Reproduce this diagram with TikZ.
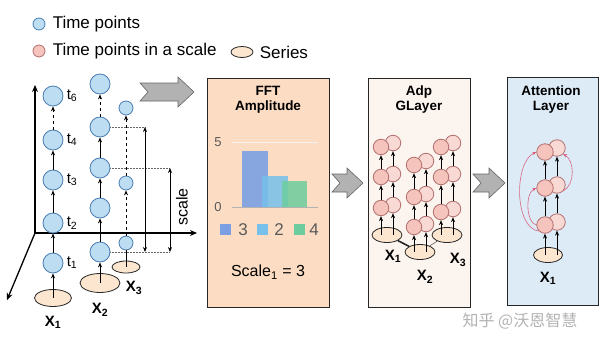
\documentclass[tikz,border=0pt]{standalone}
\usepackage{fontspec}
\setmainfont{Liberation Sans}
\newfontfamily\cjkfont{Noto Sans CJK SC}
\usetikzlibrary{
  arrows.meta, % Pfeilspitzen
  shapes.geometric, % Ellipsen fuer die Reihen
  positioning % relative Platzierung
}
% Farben
\definecolor{punktblau}{HTML}{BCDDF2}
\definecolor{randblau}{HTML}{4A7DB0}
\definecolor{punktrosa}{HTML}{F4C4BD}
\definecolor{randrosa}{HTML}{B46F6F}
\definecolor{rosablass}{HTML}{F8D9D4}
\definecolor{reihefarbe}{HTML}{FCE6CF}
\definecolor{fftfarbe}{HTML}{FCDDC3}
\definecolor{adpfarbe}{HTML}{FCF4EF}
\definecolor{attfarbe}{HTML}{DDEBF7}
\definecolor{balkenA}{HTML}{7B9FE2}
\definecolor{balkenB}{HTML}{77C0EA}
\definecolor{balkenC}{HTML}{6DCC9E}
\definecolor{attrot}{HTML}{D9506E}
% Blockpfeil: x, y (Mitte links), Laenge
\newcommand{\blockpfeil}[3]{%
  \draw[blockpfeil, shift={(#1,#2)}] (0,-9) -- (#3-16,-9) -- (#3-16,-15)
    -- (#3,0) -- (#3-16,15) -- (#3-16,9) -- (0,9) -- (8,0) -- cycle;}

\begin{document}
\begin{tikzpicture}[
      x=1pt, y=-1pt,
      line width=0.8pt,
      >={Stealth[length=5pt,width=4pt]}, % Standard-Pfeilspitze
      tp/.style={circle, draw=randblau, fill=punktblau, inner sep=0pt, minimum size=20pt},
      tpklein/.style={tp, minimum size=14pt},
      sp/.style={circle, draw=randrosa, fill=punktrosa, inner sep=0pt, minimum size=15.5pt},
      spblass/.style={sp, fill=rosablass},
      reihe/.style={ellipse, draw=black!85, fill=reihefarbe, inner sep=0pt,
        minimum width=37pt, minimum height=17pt},
      achse/.style={->, line width=1.3pt, >={Stealth[length=7pt,width=6pt]}},
      hilfslinie/.style={densely dotted, line width=0.5pt, black!60},
      panel/.style={draw=black!85, line width=1pt, inner sep=0pt},
      blockpfeil/.style={draw=black!60, fill=black!30, line width=0.6pt},
      titel/.style={font=\bfseries\fontsize{13.5}{15}\selectfont, align=center},
      legtext/.style={font=\fontsize{17}{20}\selectfont, anchor=west, inner sep=0pt},
      xlab/.style={font=\bfseries\fontsize{15}{17}\selectfont},
      tlab/.style={font=\fontsize{15}{17}\selectfont, inner sep=0pt},
      zahl/.style={font=\fontsize{17}{20}\selectfont, text=black!65},
      rotpfeil/.style={->, attrot, line width=0.6pt, opacity=0.85,
        >={Stealth[length=4pt,width=3.5pt]}},
    ]
    \useasboundingbox (0,0) rectangle (600,340);

    % Legende
    \node[tp, minimum size=12pt] (lega) at (39,24) {};
    \node[legtext, right=7pt of lega] (legatext) {Time points};
    \node[sp, minimum size=12pt] (legb) at (39,51) {};
    \node[legtext, right=7pt of legb] (legbtext) {Time points in a scale};
    \node[reihe, minimum width=22pt, minimum height=11pt] (legc) at (242,52) {};
    \node[legtext, right=6pt of legc] (legctext) {Series};

    % Achsen
    \coordinate (O) at (35,233);
    \coordinate (yachse) at (35,85);
    \coordinate (xachse) at (197,233);
    \coordinate (zachse) at (7,300);
    \draw[achse] (O) -- (yachse);
    \draw[achse] (O) -- (xachse);
    \draw[achse] (O) -- (zachse);

    % Reihe X1
    \node[reihe] (e1) at (53,298) {};
    \node[tp] (a1) at (53,263) {};
    \node[tp] (a2) at (53,223) {};
    \node[tp] (a3) at (53,180) {};
    \node[tp] (a4) at (53,140) {};
    \node[tp] (a6) at (53,96) {};
    \draw[->] (e1.center) -- (a1);
    \draw[->] (a1) -- (a2);
    \draw[->] (a2) -- (a3);
    \draw[->] (a3) -- (a4);
    \draw[->, dashed] (a4) -- (a6);
    \node[tlab, right=3pt of a1] (t1) {t\textsubscript{1}};
    \node[tlab, right=3pt of a2] (t2) {t\textsubscript{2}};
    \node[tlab, right=3pt of a3] (t3) {t\textsubscript{3}};
    \node[tlab, right=3pt of a4] (t4) {t\textsubscript{4}};
    \node[tlab, right=3pt of a6] (t6) {t\textsubscript{6}};
    \node[xlab] (x1) at (53,322) {X\textsubscript{1}};

    % Reihe X2
    \node[reihe, minimum width=40pt, minimum height=19pt] (e2) at (100,283) {};
    \node[tp] (b1) at (100,252) {};
    \node[tp] (b2) at (100,208) {};
    \node[tp] (b3) at (100,168) {};
    \node[tp] (b4) at (100,127) {};
    \node[tp] (b5) at (100,84) {};
    \draw[->] (e2.center) -- (b1);
    \draw[->] (b1) -- (b2);
    \draw[->] (b2) -- (b3);
    \draw[->] (b3) -- (b4);
    \draw[->, dashed] (b4) -- (b5);
    \node[xlab] (x2) at (100,310) {X\textsubscript{2}};

    % Reihe X3
    \node[reihe, minimum width=28pt, minimum height=12pt] (e3) at (126,267) {};
    \node[tpklein] (c1) at (126,243) {};
    \node[tpklein] (c2) at (126,183) {};
    \node[tpklein] (c3) at (126,108) {};
    \draw (e3.center) -- (c1);
    \draw[->, dashed] (c1) -- (c2);
    \draw[->, dashed] (c2) -- (c3);
    \node[xlab] (x3) at (134,288) {X\textsubscript{3}};

    % Skalen
    \coordinate (s1o) at (145,127);
    \coordinate (s1u) at (145,252);
    \coordinate (s2o) at (170,168);
    \coordinate (s2u) at (170,252);
    \draw[hilfslinie] (b4.east) -- (s1o);
    \draw[hilfslinie] (b3.east) -- (s2o);
    \draw[hilfslinie] (b1.east) -- (s2u);
    \draw[<->] (s1o) -- (s1u);
    \draw[<->] (s2o) -- (s2u);
    \node[rotate=90, font=\fontsize{16}{18}\selectfont] (skala) at (182,207) {scale};

    % Blockpfeile
    \blockpfeil{140}{92}{54}
    \blockpfeil{332}{183}{31}
    \blockpfeil{473}{183}{32}

    % FFT
    \node[panel, fill=fftfarbe, minimum width=122pt, minimum height=229pt] (fft) at (268,192.5) {};
    \node[titel] (ffttitel) at (268,100) {FFT\\Amplitude};
    \draw[black!6, line width=0.6pt] (232,142) -- (318,142);
    \fill[balkenA, opacity=0.9] (242,207) rectangle (268,151);
    \fill[balkenB, opacity=0.85] (262,207) rectangle (288,176);
    \fill[balkenC, opacity=0.85] (282,207) rectangle (307,181);
    \draw[black!30, line width=0.8pt] (232,207) -- (318,207);
    \node[zahl, font=\fontsize{13}{15}\selectfont] (f5) at (218,142) {5};
    \node[zahl, font=\fontsize{13}{15}\selectfont] (f0) at (218,207) {0};
    \fill[balkenA] (220,224) rectangle (231,235);
    \node[zahl] (l3) at (243,230) {3};
    \fill[balkenB] (257,224) rectangle (268,235);
    \node[zahl] (l2) at (279,230) {2};
    \fill[balkenC] (294,224) rectangle (305,235);
    \node[zahl] (l4) at (314,230) {4};
    \node[font=\fontsize{16}{18}\selectfont] (skala1) at (268,272) {Scale\textsubscript{1} = 3};

    % Adp GLayer
    \node[panel, fill=adpfarbe, minimum width=102pt, minimum height=229pt] (adp) at (419,192.5) {};
    \node[titel] (adptitel) at (419,100) {Adp\\GLayer};
    \foreach \s/\xe/\ye/\ya/\yb/\yc in {1/387/235/208/177/147, 2/420/252/227/197/165, 3/447/235/212/177/147}{
      \node[reihe, minimum width=30pt, minimum height=15pt] (g\s) at (\xe,\ye) {};
      \coordinate (gl\s) at (\xe-6,\ye);
      \coordinate (gr\s) at (\xe+6,\ye);
      \node[spblass] (r\s-1) at (\xe+6,\ya-3) {};
      \node[spblass] (r\s-2) at (\xe+6,\yb-3) {};
      \node[spblass] (r\s-3) at (\xe+6,\yc-4) {};
      \node[sp] (l\s-1) at (\xe-6,\ya) {};
      \node[sp] (l\s-2) at (\xe-6,\yb) {};
      \node[sp] (l\s-3) at (\xe-6,\yc) {};
      \draw[->, line width=0.6pt] (gl\s) -- (l\s-1);
      \draw[->, line width=0.6pt] (l\s-1) -- (l\s-2);
      \draw[->, line width=0.6pt] (l\s-2) -- (l\s-3);
      \draw[->, line width=0.6pt] (gr\s) -- (r\s-1);
      \draw[->, line width=0.6pt] (r\s-1) -- (r\s-2);
      \draw[->, line width=0.6pt] (r\s-2) -- (r\s-3);
    }
    \draw[line width=1.6pt, black!85] (g1) -- (g2);
    \draw[line width=0.5pt, black!70] (g2) -- (g3);
    \node[xlab] (gx1) at (393,256) {X\textsubscript{1}};
    \node[xlab] (gx2) at (425,277) {X\textsubscript{2}};
    \node[xlab] (gx3) at (458,260) {X\textsubscript{3}};

    % Attention Layer
    \node[panel, fill=attfarbe, minimum width=91pt, minimum height=228pt] (att) at (552.5,191) {};
    \node[titel] (atttitel) at (551,100) {Attention\\Layer};
    \node[reihe, minimum width=29pt, minimum height=15pt] (h1) at (548,255) {};
    \coordinate (hl) at (545,255);
    \coordinate (hr) at (557,255);
    \node[spblass, minimum size=16.5pt] (m1) at (557,222) {};
    \node[spblass, minimum size=16.5pt] (m2) at (557,185) {};
    \node[spblass, minimum size=16.5pt] (m3) at (557,148) {};
    \node[sp, minimum size=16.5pt] (n1) at (545,225) {};
    \node[sp, minimum size=16.5pt] (n2) at (545,188) {};
    \node[sp, minimum size=16.5pt] (n3) at (545,152) {};
    \draw[->, line width=0.6pt] (hl) -- (n1);
    \draw[->, line width=0.6pt] (n1) -- (n2);
    \draw[->, line width=0.6pt] (n2) -- (n3);
    \draw[->, line width=0.6pt] (hr) -- (m1);
    \draw[->, line width=0.6pt] (m1) -- (m2);
    \draw[->, line width=0.6pt] (m2) -- (m3);
    \draw[rotpfeil] (n1.west) .. controls (526,223) and (525,193) .. (n2.west);
    \draw[rotpfeil] (n1.south west) .. controls (514,228) and (514,162) .. (n3.west);
    \draw[rotpfeil] (m2.south east) .. controls (576,184) and (574,160) .. (m3.south east);
    \node[xlab] (ax1) at (548,278) {X\textsubscript{1}};

    % Wasserzeichen
    \node[font=\cjkfont\fontsize{16}{18}\selectfont, text=black!30] (wz) at (520,321) {知乎 @沃恩智慧};
  \end{tikzpicture}
\end{document}
